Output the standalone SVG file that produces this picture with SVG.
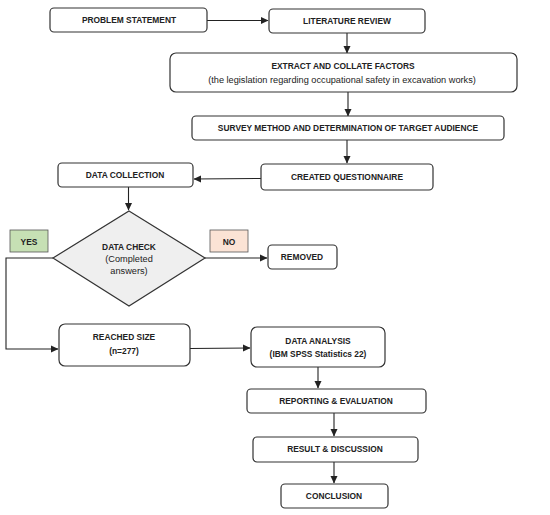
<svg xmlns="http://www.w3.org/2000/svg" width="550" height="515" viewBox="0 0 550 515">
<defs>
<marker id="ah" markerWidth="8" markerHeight="8" refX="7" refY="4" orient="auto" markerUnits="userSpaceOnUse">
<path d="M0,0.5 L7.5,4 L0,7.5 Z" fill="#222"/>
</marker>
<style>
.box{fill:#fff;stroke:#333;stroke-width:1.2}
.t{font-family:"Liberation Sans",Arial,sans-serif;font-size:8.4px;font-weight:bold;fill:#222;text-anchor:middle}
.r{font-family:"Liberation Sans",Arial,sans-serif;font-size:9.2px;font-weight:normal;fill:#222;text-anchor:middle}
.c{fill:none;stroke:#222;stroke-width:1.1}
</style>
</defs>
<rect width="550" height="515" fill="#fff"/>
<g id="connectors">
<line class="c" x1="207" y1="20.5" x2="268" y2="20.5" marker-end="url(#ah)"/>
<line class="c" x1="347" y1="33" x2="347" y2="53" marker-end="url(#ah)"/>
<line class="c" x1="348" y1="92" x2="348" y2="116" marker-end="url(#ah)"/>
<line class="c" x1="347" y1="140" x2="347" y2="163" marker-end="url(#ah)"/>
<line class="c" x1="261" y1="178.5" x2="194" y2="179" marker-end="url(#ah)"/>
<line class="c" x1="128.5" y1="187" x2="128.5" y2="210" marker-end="url(#ah)"/>
<line class="c" x1="205" y1="258" x2="267" y2="258" marker-end="url(#ah)"/>
<polyline class="c" points="53,258 6,258 6,349 58,349" marker-end="url(#ah)"/>
<line class="c" x1="190" y1="348.5" x2="250" y2="348" marker-end="url(#ah)"/>
<line class="c" x1="318" y1="367" x2="318" y2="388" marker-end="url(#ah)"/>
<line class="c" x1="334" y1="413" x2="334" y2="436" marker-end="url(#ah)"/>
<line class="c" x1="334" y1="462" x2="334" y2="483" marker-end="url(#ah)"/>
</g>
<g id="problem"><rect class="box" x="50" y="8" width="157" height="24" rx="4"/><text class="t" x="129" y="23">PROBLEM STATEMENT</text></g>
<g id="literature"><rect class="box" x="269" y="9" width="156" height="24" rx="4"/><text class="t" x="347" y="24">LITERATURE REVIEW</text></g>
<g id="extract"><rect class="box" x="170" y="53" width="347" height="39" rx="6"/><text class="t" x="343" y="69">EXTRACT AND COLLATE FACTORS</text><text class="r" x="342" y="83">(the legislation regarding occupational safety in excavation works)</text></g>
<g id="survey"><rect class="box" x="192" y="116" width="312" height="24" rx="4"/><text class="t" x="348" y="131">SURVEY METHOD AND DETERMINATION OF TARGET AUDIENCE</text></g>
<g id="questionnaire"><rect class="box" x="261" y="164" width="172" height="26" rx="4"/><text class="t" x="347" y="180">CREATED QUESTIONNAIRE</text></g>
<g id="collection"><rect class="box" x="58" y="163" width="135" height="24" rx="4"/><text class="t" x="125" y="178">DATA COLLECTION</text></g>
<g id="check"><polygon points="129,211 205,258 129,306 53,258" fill="#efefef" stroke="#333" stroke-width="1.2"/><text class="t" x="129" y="250">DATA CHECK</text><text class="r" x="129" y="261.5">(Completed</text><text class="r" x="129" y="273.5">answers)</text></g>
<g id="yes"><rect x="10" y="230" width="38" height="22" fill="#c6e0b4" stroke="#555" stroke-width="0.8"/><text class="t" x="29" y="244.5">YES</text></g>
<g id="no"><rect x="210" y="230" width="38" height="22" fill="#fbe3d5" stroke="#555" stroke-width="0.8"/><text class="t" x="229" y="244.5">NO</text></g>
<g id="removed"><rect class="box" x="268" y="245" width="69" height="24" rx="4"/><text class="t" x="302" y="260">REMOVED</text></g>
<g id="reached"><rect class="box" x="59" y="324" width="131" height="42" rx="6"/><text class="t" x="124" y="340">REACHED SIZE</text><text class="t" x="124" y="354">(n=277)</text></g>
<g id="analysis"><rect class="box" x="251" y="327" width="134" height="40" rx="6"/><text class="t" x="318" y="344">DATA ANALYSIS</text><text class="t" x="318" y="357">(IBM SPSS Statistics 22)</text></g>
<g id="reporting"><rect class="box" x="247" y="389" width="179" height="24" rx="4"/><text class="t" x="336" y="404">REPORTING &amp; EVALUATION</text></g>
<g id="result"><rect class="box" x="253" y="437" width="165" height="25" rx="4"/><text class="t" x="335" y="452">RESULT &amp; DISCUSSION</text></g>
<g id="conclusion"><rect class="box" x="281" y="484" width="107" height="24" rx="4"/><text class="t" x="334" y="499">CONCLUSION</text></g>
</svg>
